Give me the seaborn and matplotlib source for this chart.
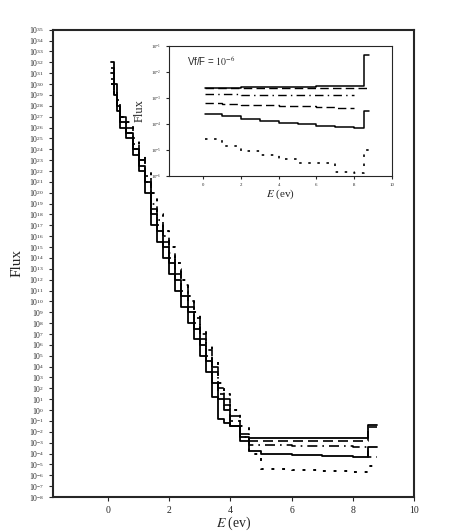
import numpy as np
import pandas as pd
import matplotlib
matplotlib.use("Agg")
import matplotlib.pyplot as plt
import matplotlib.ticker as mticker
import seaborn as sns

sns.set_style("ticks")
plt.rcParams["font.family"] = ["Liberation Serif", "DejaVu Serif"]
plt.rcParams["mathtext.fontset"] = "stix"

# main panel: energy grid and log10(flux) for each curve
E_MAIN = [0.1, 0.2, 0.3, 0.4, 0.6, 0.8, 1.0, 1.2, 1.4, 1.6, 1.8, 2.0, 2.2, 2.4,
          2.6, 2.8, 3.0, 3.2, 3.4, 3.6, 3.8, 4.0, 4.3, 4.6, 5.0, 6.0, 7.0, 8.0, 8.5, 8.8]
LOG_SOLID_LO = [31, 29, 27.5, 26, 25, 23.5, 22, 20, 17, 15.5, 14, 12.5, 11, 9.5,
                8, 6.5, 5, 3.5, 1.2, -0.8, -1.2, -1.5, -2.8, -3.8, -4.0, -4.1, -4.2, -4.3, -3.4, -3.4]
LOG_SOLID_HI = [32, 30, 28, 26.5, 25.5, 24, 22.5, 21, 18, 16.5, 15, 13.5, 12, 10.5,
                9, 7.5, 6, 4.5, 2.5, 1, 0, -1.5, -2.5, -2.6, -2.6, -2.6, -2.6, -2.6, -1.4, -1.4]
LOG_DASHED = [31.5, 29.5, 28.5, 27, 26, 24.5, 23, 21.5, 18.5, 17, 15.5, 14, 12.5, 11,
              9.5, 8, 6.5, 5, 3.5, 1.5, 0.5, -1, -2.2, -2.8, -2.8, -2.8, -2.8, -2.8, -1.6, -1.6]
LOG_DASHDOT = [30.5, 29, 28, 26.5, 25.5, 24, 23, 21, 19, 17.5, 16, 14.5, 13, 11.5,
               10, 8.5, 7, 5.5, 4, 2, 1, -0.5, -2.5, -3.2, -3.2, -3.3, -3.3, -3.4, -4.3, -4.3]
LOG_DOTTED = [30, 28.5, 28, 27, 26.5, 25, 23.5, 22, 20, 18, 16.5, 15, 13.5, 12,
              10.5, 9, 7.5, 6, 4.5, 2.5, 1.5, 0, -1.5, -4, -5.4, -5.5, -5.6, -5.7, -5.1, -5.1]

# inset: same curves near the plateau
E_INSET = [0.1, 1.0, 2.0, 3.0, 4.0, 5.0, 6.0, 7.0, 8.0, 8.5, 8.8]
IN_SOLID_HI = [-2.62, -2.6, -2.58, -2.57, -2.56, -2.56, -2.55, -2.55, -2.55, -1.35, -1.35]
IN_DASH_A = [-2.62, -2.62, -2.62, -2.62, -2.61, -2.61, -2.61, -2.61, -2.61, -2.61, -2.61]
IN_DASH_B = [-2.85, -2.86, -2.87, -2.88, -2.89, -2.89, -2.9, -2.9, -2.9, np.nan, np.nan]
IN_DASH_C = [-3.2, -3.22, -3.25, -3.28, -3.3, -3.32, -3.35, -3.37, -3.4, np.nan, np.nan]
IN_SOLID_LO = [-3.6, -3.7, -3.8, -3.88, -3.95, -4.02, -4.07, -4.12, -4.16, -3.5, -3.5]
IN_DOTTED = [-4.6, -4.85, -5.05, -5.2, -5.35, -5.5, np.nan, -5.85, -5.9, -5.0, -5.0]

STYLES = [
    ("solid", 1.3),
    ("solid", 1.3),
    ((0, (6, 3)), 1.2),
    ((0, (6, 3, 1, 3)), 1.2),
    ((0, (1.5, 4)), 1.4),
]


def draw(ax, x, series, scale=1.0):
    for y, (ls, lw) in zip(series, STYLES):
        df = pd.DataFrame({"E": x, "flux": 10.0 ** np.array(y, dtype=float)})
        sns.lineplot(data=df, x="E", y="flux", ax=ax, color="black", linestyle=ls,
                     linewidth=lw * scale, drawstyle="steps-post", estimator=None, sort=False)
    ax.set_yscale("log")


fig = plt.figure(figsize=(4.74, 5.31), dpi=100)
ax = fig.add_axes([0.112, 0.064, 0.761, 0.88])
draw(ax, E_MAIN, [LOG_SOLID_LO, LOG_SOLID_HI, LOG_DASHED, LOG_DASHDOT, LOG_DOTTED])
ax.set_xlim(-1.8, 10)
ax.set_ylim(1e-8, 1e35)
ax.set_xticks([0, 2, 4, 6, 8, 10])
ax.yaxis.set_major_locator(mticker.LogLocator(base=10, numticks=60))
ax.yaxis.set_minor_locator(mticker.NullLocator())
ax.tick_params(axis="y", labelsize=5.5, length=3)
ax.tick_params(axis="x", labelsize=7, length=3)
ax.set_xlabel("$E$ (ev)", fontsize=10, labelpad=0)
ax.set_ylabel("Flux", fontsize=11)
for s in ax.spines.values():
    s.set_linewidth(1.5)

ins = fig.add_axes([0.357, 0.669, 0.47, 0.244])
draw(ins, E_INSET, [IN_SOLID_LO, IN_SOLID_HI, IN_DASH_A, IN_DASH_B, IN_DOTTED], scale=0.85)
sns.lineplot(x=E_INSET, y=10.0 ** np.array(IN_DASH_C), ax=ins, color="black",
             linestyle=(0, (6, 3)), linewidth=1.0, drawstyle="steps-post")
ins.set_yscale("log")
ins.set_xlim(-1.8, 10)
ins.set_ylim(1e-6, 1e-1)
ins.set_xticks([0, 2, 4, 6, 8, 10])
ins.yaxis.set_major_locator(mticker.LogLocator(base=10, numticks=20))
ins.yaxis.set_minor_locator(mticker.NullLocator())
ins.tick_params(labelsize=3.5, length=2)
ins.set_xlabel("$E$ (ev)", fontsize=8, labelpad=0)
ins.set_ylabel("Flux", fontsize=9)
ins.text(0.08, 0.85, "Vf/F = $10^{-6}$", transform=ins.transAxes, fontsize=7,
         family=["Liberation Sans", "DejaVu Sans"])

fig.savefig("out.png", dpi=100)
